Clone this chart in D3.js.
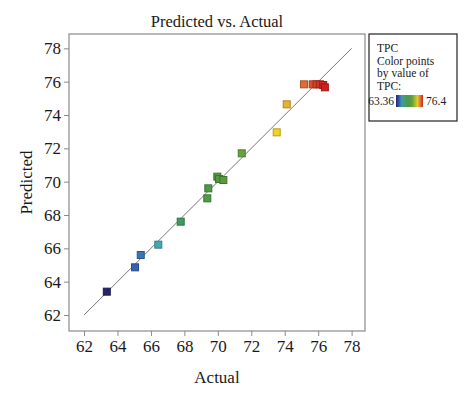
<!DOCTYPE html>
<html>
<head>
<meta charset="utf-8">
<script src="https://cdn.jsdelivr.net/npm/d3@7"></script>
<style>
  body { margin: 0; background: #fff; }
  svg text { font-family: "Liberation Serif", "DejaVu Serif", serif; fill: #1a1a1a; }
</style>
</head>
<body>
<svg id="chart" width="474" height="399"></svg>
<script>
// run data: actual vs predicted TPC
var actual    = [63.36, 65.05, 65.39, 66.44, 67.78, 69.37, 69.43, 69.97, 70.07, 70.33, 71.43, 73.52, 74.12, 75.15, 75.67, 75.9, 76.1, 76.3, 76.4];
var predicted = [63.40, 64.86, 65.60, 66.22, 67.60, 69.00, 69.60, 70.30, 70.16, 70.10, 71.70, 72.96, 74.64, 75.84, 75.84, 75.84, 75.84, 75.80, 75.66];
var ticks = [62, 64, 66, 68, 70, 72, 74, 76, 78];
var tpcMin = 63.36, tpcMax = 76.4;
var legendLines = ["TPC", "Color points", "by value of", "TPC:"];

var svg = d3.select("#chart"),
    margin = {top: 34, right: 109, bottom: 68, left: 69},
    w = +svg.attr("width") - margin.left - margin.right,
    h = +svg.attr("height") - margin.top - margin.bottom;

var x = d3.scaleLinear().domain([61.1, 78.8]).range([0, w]);
var y = d3.scaleLinear().domain([61.04, 78.86]).range([h, 0]);

var color = d3.scaleLinear()
    .domain([0, 0.13, 0.23, 0.34, 0.52, 0.64, 0.78, 0.84, 0.91, 1].map(function(t) { return tpcMin + t * (tpcMax - tpcMin); }))
    .range(["#26246c", "#3563b4", "#47a6b6", "#3f9a5c", "#549a3e", "#6aa63a", "#f0d424", "#e6a634", "#dc6a32", "#cc2222"]);

var g = svg.append("g")
    .attr("transform", "translate(" + margin.left + "," + margin.top + ")");

g.append("rect")
    .attr("width", w).attr("height", h)
    .attr("fill", "none").attr("stroke", "#8a8a8a").attr("stroke-width", 1.2);

var xAxis = g.append("g")
    .attr("transform", "translate(0," + h + ")")
    .call(d3.axisBottom(x).tickValues(ticks).tickSize(5).tickPadding(4));
var yAxis = g.append("g")
    .call(d3.axisLeft(y).tickValues(ticks).tickSize(5).tickPadding(3));

[xAxis, yAxis].forEach(function(a) {
  a.select(".domain").remove();
  a.selectAll(".tick line").attr("stroke", "#8a8a8a");
  a.selectAll("text")
    .style("font-family", "'Liberation Serif', 'DejaVu Serif', serif")
    .style("font-size", "17px")
    .attr("fill", "#1a1a1a");
});

// diagonal reference line
g.append("line")
    .attr("x1", x(62)).attr("y1", y(62))
    .attr("x2", x(78)).attr("y2", y(78))
    .attr("stroke", "#777").attr("stroke-width", 1);

var pts = actual.map(function(a, i) { return {a: a, p: predicted[i]}; });

g.selectAll(".pt")
    .data(pts)
  .enter().append("rect")
    .attr("class", "pt")
    .attr("x", function(d) { return x(d.a) - 3.5; })
    .attr("y", function(d) { return y(d.p) - 3.5; })
    .attr("width", 7).attr("height", 7)
    .attr("fill", function(d) { return color(d.a); })
    .attr("stroke", function(d) { return d3.color(color(d.a)).darker(0.8); })
    .attr("stroke-width", 1);

// titles
svg.append("text")
    .attr("x", margin.left + w / 2).attr("y", 27)
    .attr("text-anchor", "middle")
    .style("font-size", "16.5px")
    .text("Predicted vs. Actual");

svg.append("text")
    .attr("x", margin.left + w / 2).attr("y", 383)
    .attr("text-anchor", "middle")
    .style("font-size", "17px")
    .text("Actual");

svg.append("text")
    .attr("transform", "translate(32," + (margin.top + h / 2) + ") rotate(-90)")
    .attr("text-anchor", "middle")
    .style("font-size", "17px")
    .text("Predicted");

// legend box
var lg = svg.append("g").attr("transform", "translate(369,34)");
lg.append("rect")
    .attr("width", 88).attr("height", 87)
    .attr("fill", "#fff").attr("stroke", "#222").attr("stroke-width", 1.2);

lg.selectAll(".lt")
    .data(legendLines)
  .enter().append("text")
    .attr("class", "lt")
    .attr("x", 8)
    .attr("y", function(d, i) { return 18 + i * 12.5; })
    .style("font-size", "11.5px")
    .text(function(d) { return d; });

var grad = svg.append("defs").append("linearGradient").attr("id", "tpcGrad");
d3.range(0, 1.001, 0.1).forEach(function(t) {
  grad.append("stop")
      .attr("offset", t)
      .attr("stop-color", color(tpcMin + t * (tpcMax - tpcMin)));
});

lg.append("rect")
    .attr("x", 27).attr("y", 61).attr("width", 27).attr("height", 12)
    .attr("fill", "url(#tpcGrad)");

lg.append("text")
    .attr("x", 25).attr("y", 71)
    .attr("text-anchor", "end")
    .style("font-size", "11.5px")
    .text(tpcMin);
lg.append("text")
    .attr("x", 57).attr("y", 71)
    .style("font-size", "11.5px")
    .text(tpcMax);
</script>
</body>
</html>
